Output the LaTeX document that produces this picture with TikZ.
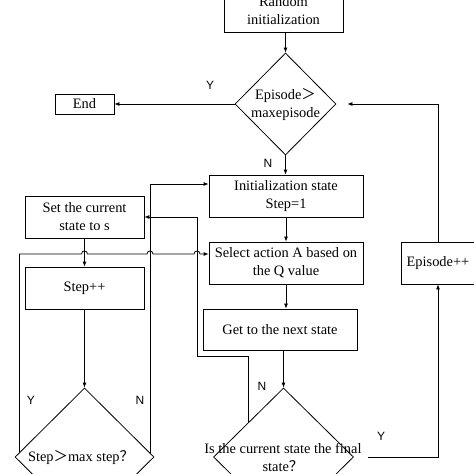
\documentclass[tikz,border=0pt]{standalone}
\usepackage{fontspec}
\setmainfont{Liberation Serif}
\newfontfamily\labfont{Liberation Sans}
\newfontfamily\cjk{Noto Sans CJK SC}
\usetikzlibrary{shapes.geometric,arrows.meta,calc}
\begin{document}
\begin{tikzpicture}[x=1pt,y=-1pt,
  box/.style={draw,line width=0.8pt,inner sep=0pt,align=center,font=\fontsize{14.4}{18}\selectfont},
  dia/.style={draw,diamond,line width=0.8pt,inner sep=0pt},
  txt/.style={align=center,inner sep=0pt,font=\fontsize{14.4}{18}\selectfont},
  yn/.style={font=\labfont\fontsize{12}{14}\selectfont,inner sep=0pt},
  arr/.style={line width=0.8pt,-{Latex[length=5pt,width=4pt]}},
  ln/.style={line width=0.8pt}]
\useasboundingbox (0,0) rectangle (474,474);

% boxes
\node[box,minimum width=119,minimum height=42] (rnd) at (283.5,11) {Random\\initialization};
\node[dia,minimum width=101,minimum height=102] (d1) at (285.5,104) {};
\node[txt] (d1t) at (285.5,105) {Episode{\cjk ＞}\\maxepisode};
\node[box,minimum width=59,minimum height=20] (endn) at (84.5,104) {End};
\node[box,minimum width=154,minimum height=42] (init) at (286,196) {Initialization state\\Step=1};
\node[box,minimum width=154,minimum height=42] (sel) at (286,263) {Select action A based on\\the Q value};
\node[box,minimum width=154,minimum height=41] (get) at (280,329.5) {Get to the next state};
\node[dia,minimum width=140,minimum height=138] (d2) at (283.5,457) {};
\node[txt] (d2t) at (283,457.5) {Is the current state the final\\state{\cjk ？}};
\node[box,minimum width=74,minimum height=42] (epi) at (438,263) {Episode++};
\node[box,minimum width=119,minimum height=42] (set) at (84.5,217) {Set the current\\state to s};
\node[box,minimum width=119,minimum height=42] (stepp) at (84.5,288) {Step++};
\node[dia,minimum width=139,minimum height=138] (d3) at (84.5,457) {};
\node[txt] (d3t) at (81,458) {Step{\cjk ＞}max step{\cjk ？}};

% helper coordinates
\coordinate (d1r) at ($(d1.east)+(11,0)$);
\coordinate (d2y) at ($(d2.east)+(14,0)$);
\coordinate (d2n) at ($(d2.north)!0.5!(d2.west)$);
\coordinate (d3y) at ($(d3.north)!0.93!(d3.west)$);
\coordinate (d3n) at ($(d3.north)!0.94!(d3.east)$);

% main flow
\draw[arr] (rnd.south -| d1.north) -- (d1.north);
\draw[arr] (d1.west) -- (endn.east);
\draw[arr] (d1.south) -- (d1.south |- init.north);
\draw[arr] (init.south) -- (sel.north);
\draw[arr] (sel.south) -- (sel.south |- get.north);
\draw[arr] (d2.north |- get.south) -- (d2.north);
\draw[arr] (d2y) -| (epi.south);
\draw[arr] (epi.north) |- (d1r);
\draw[arr] (d2n) |- (197,356) |- (set.east);
\draw[arr] (set.south) -- (stepp.north);
\draw[arr] (stepp.south) -- (d3.north);
\draw[arr] (d3n) |- ($(init.west)+(0,-12)$);
\draw[arr] (d3y) |- (81.5,254)
  .. controls (81.5,250) and (87.5,250) .. (87.5,254) -- (147,254)
  .. controls (147,250) and (153,250) .. (153,254) -- (194,254)
  .. controls (194,250) and (200,250) .. (200,254)
  -- ($(sel.west)+(0,-9)$);

% labels
\node[yn] (ly1) at (210,85) {Y};
\node[yn] (ln1) at (268,163) {N};
\node[yn] (ln2) at (262,386) {N};
\node[yn] (ly2) at (381,436) {Y};
\node[yn] (ly3) at (31,400) {Y};
\node[yn] (ln3) at (140,400) {N};
\end{tikzpicture}
\end{document}
